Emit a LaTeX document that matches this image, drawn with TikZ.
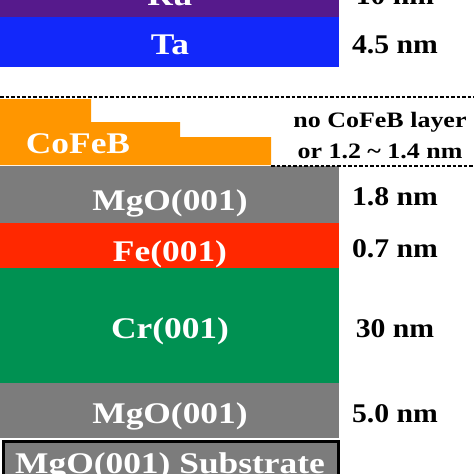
\documentclass[tikz,border=0pt]{standalone}
\usepackage{fontspec}
\setmainfont{Liberation Serif}
\newfontfamily\layerfont[FakeStretch=1.18]{Liberation Serif}
\newfontfamily\thickfont[FakeStretch=1.1]{Liberation Serif}
\newfontfamily\notefont[FakeStretch=1.18]{Liberation Serif}
\usepackage{tikz}
\definecolor{ruPurple}{RGB}{86,26,140}
\definecolor{taBlue}{RGB}{18,40,250}
\definecolor{cofebOrange}{RGB}{255,150,0}
\definecolor{mgoGray}{RGB}{124,124,124}
\definecolor{feRed}{RGB}{255,40,0}
\definecolor{crGreen}{RGB}{0,145,82}

\begin{document}
\begin{tikzpicture}[x=1pt, y=-1pt,
  layertext/.style={anchor=base, inner sep=0pt, text=white, font=\layerfont\bfseries\fontsize{30}{30}\selectfont},
  thick/.style={anchor=base, inner sep=0pt, font=\thickfont\bfseries\fontsize{27}{27}\selectfont},
  note/.style={anchor=base, inner sep=0pt, font=\notefont\bfseries\fontsize{22}{22}\selectfont},
  cut/.style={line width=1.2pt, dash pattern=on 3.5pt off 2pt}]
  \useasboundingbox (0,0) rectangle (474,474);
  \clip (0,0) rectangle (474,474);
  % Layer stack
  \fill[ruPurple] (0,-30) rectangle (339,17);
  \fill[taBlue] (0,17) rectangle (339,67);
  \fill[cofebOrange] (0,99) -- (91,99) -- (91,122) -- (180,122) -- (180,137)
    -- (271,137) -- (271,165) -- (0,165) -- cycle;
  \fill[mgoGray] (0,166) rectangle (339,223);
  \fill[feRed] (0,223) rectangle (339,268);
  \fill[crGreen] (0,268) rectangle (339,383);
  \fill[mgoGray] (0,383) rectangle (339,438);
  \draw[fill=mgoGray, line width=3pt] (3.5,441.5) rectangle (338.5,500);
  % Dashed guides
  \coordinate (topL) at (0,97);
  \coordinate (topR) at (474,97);
  \coordinate (lowL) at (271,166);
  \coordinate (lowR) at (474,166);
  \draw[cut] (topL) -- (topR);
  \draw[cut] (lowL) -- (lowR);
  % Layer names
  \node[layertext] (ru) at (170,5) {Ru};
  \node[layertext] (ta) at (170,54) {Ta};
  \node[layertext] (cofeb) at (78,153) {CoFeB};
  \node[layertext] (mgo1) at (170,210) {MgO(001)};
  \node[layertext] (fe) at (170,261) {Fe(001)};
  \node[layertext] (cr) at (170,338) {Cr(001)};
  \node[layertext] (mgo2) at (170,423) {MgO(001)};
  \node[layertext] (sub) at (170,473) {MgO(001) Substrate};
  % Thicknesses
  \node[thick] (tRu) at (395,4) {10 nm};
  \node[thick] (tTa) at (395,53) {4.5 nm};
  \node[note] (tCo1) at (380,127) {no CoFeB layer};
  \node[note] (tCo2) at (380,158) {or 1.2 \textasciitilde{} 1.4 nm};
  \node[thick] (tMgo1) at (395,205) {1.8 nm};
  \node[thick] (tFe) at (395,257) {0.7 nm};
  \node[thick] (tCr) at (395,337) {30 nm};
  \node[thick] (tMgo2) at (395,422) {5.0 nm};
\end{tikzpicture}
\end{document}
